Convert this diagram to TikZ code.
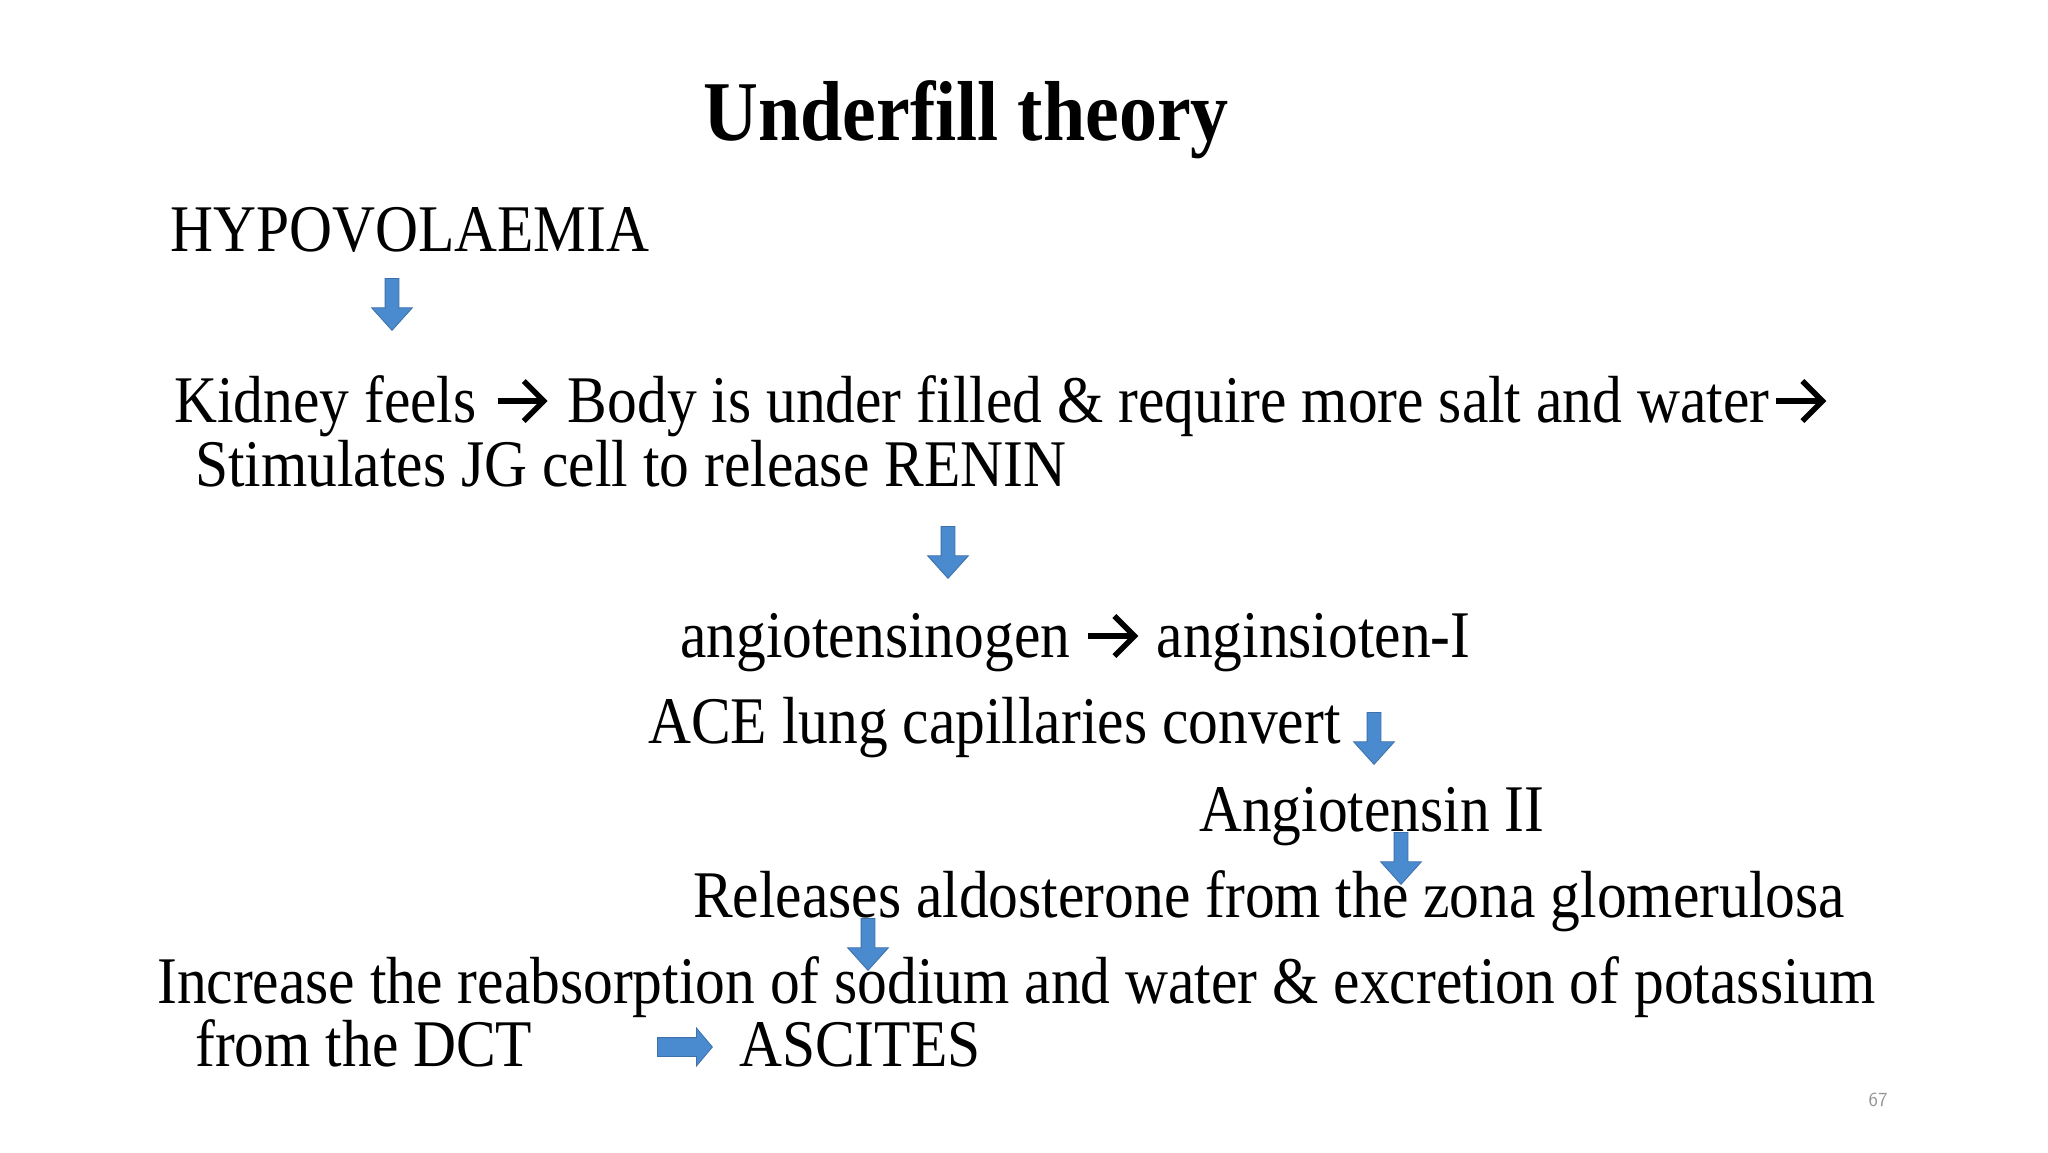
\documentclass[tikz,border=0pt]{standalone}
\usepackage{fontspec}
\setmainfont{Liberation Serif}
\usetikzlibrary{shapes.arrows,calc}
\definecolor{arrowblue}{RGB}{74,138,206}
\definecolor{arrowedge}{RGB}{62,112,170}
\definecolor{pagenum}{RGB}{150,150,150}
\newcommand{\vst}[1]{\scalebox{1}[1.12]{#1}}
% black text arrow: starts at #1 (a coordinate on the baseline)
\newcommand{\txtarr}[1]{%
  \draw[tarrow] ($(#1)+(0,-21)$) -- ++(44,0);
  \draw[tarrow] ($(#1)+(26,-41)$) -- ++(20,20) -- ++(-20,20);}
\begin{document}
\begin{tikzpicture}[x=1pt,y=-1pt,
  txt/.style={anchor=base west, inner sep=0pt, font=\fontsize{59.5}{70}\selectfont},
  ttl/.style={anchor=base, inner sep=0pt, font=\fontsize{76}{90}\selectfont\bfseries},
  tarrow/.style={draw=black, line width=5.5pt, line cap=butt, line join=miter},
  dnarrow/.style={single arrow, rotate=-90, fill=arrowblue, draw=arrowedge, line width=0.8pt,
    minimum height=52pt, inner xsep=0pt, inner ysep=6.5pt, single arrow head extend=13.5pt,
    single arrow tip angle=84, anchor=tail},
  rtarrow/.style={single arrow, fill=arrowblue, draw=arrowedge, line width=0.8pt,
    minimum height=55pt, inner xsep=0pt, inner ysep=9pt, single arrow head extend=9.5pt,
    single arrow tip angle=100, anchor=tail}]
\useasboundingbox (0,0) rectangle (2048,1152);
\fill[white] (0,0) rectangle (2048,1152);
\node[ttl] (title) at (966,140) {\vst{Underfill theory}};
\node[txt] (hypo) at (170,251) {\vst{HYPOVOLAEMIA}};
% Kidney line
\node[txt] (kid1) at (174,422) {\vst{Kidney feels}};
\coordinate (r1) at ($(kid1.base east)+(21,0)$);
\node[txt] (kid2) at ($(r1)+(70,0)$) {\vst{Body is under filled \& require more salt and water}};
\coordinate (r2) at ($(kid2.base east)+(7,0)$);
\txtarr{r1}
\txtarr{r2}
\node[txt] (stim) at (195,486) {\vst{Stimulates JG cell to release RENIN}};
% angiotensinogen line
\node[txt] (ang1) at (680,657) {\vst{angiotensinogen}};
\coordinate (r3) at ($(ang1.base east)+(18,0)$);
\node[txt] (ang1b) at ($(r3)+(68,0)$) {\vst{anginsioten-I}};
\txtarr{r3}
\node[txt] (ace) at (648,743) {\vst{ACE lung capillaries convert}};
\node[txt] (ang2) at (1199,831) {\vst{Angiotensin II}};
\node[txt] (rel) at (693,917) {\vst{Releases aldosterone from the zona glomerulosa}};
\node[txt] (inc) at (157,1003) {\vst{Increase the reabsorption of sodium and water \& excretion of potassium}};
\node[txt] (dct) at (195,1066) {\vst{from the DCT}};
\node[txt] (asc) at (739,1066) {\vst{ASCITES}};
\node[anchor=center, inner sep=0pt, text=pagenum, font=\fontsize{20}{24}\sffamily] (pg) at (1878,1100) {67};
\node[dnarrow] (a1) at (392,278) {};
\node[dnarrow] (a2) at (948,526) {};
\node[dnarrow] (a3) at (1374,712) {};
\node[dnarrow] (a4) at (1401,832) {};
\node[dnarrow] (a5) at (868,918) {};
\node[rtarrow] (a6) at (657,1047) {};
\end{tikzpicture}
\end{document}
